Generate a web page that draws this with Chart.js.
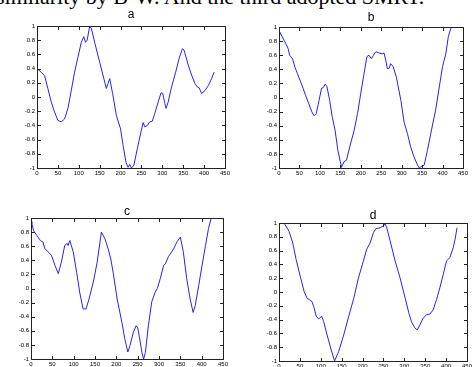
<!DOCTYPE html>
<html>
<head>
<meta charset="utf-8">
<script src="https://cdn.jsdelivr.net/npm/chart.js@4.4.1/dist/chart.umd.min.js"></script>
<style>
  html, body { margin: 0; padding: 0; background: #fff; }
  body { width: 474px; height: 367px; position: relative; overflow: hidden; }
  canvas { position: absolute; }
  .titulo { position: absolute; font: 12px/12px "Liberation Sans", Arial, sans-serif; color: #000; text-align: center; width: 20px; }
  .pie { position: absolute; left: -4px; top: -14px; font: 22px/22px "Liberation Serif", "Times New Roman", serif; color: #000; white-space: nowrap; }
</style>
</head>
<body>
<div class="pie">similarity by B-W. And the third adopted SMRT.</div>

<script>
// datos (indice de muestra -> valor normalizado)
const aX = [0,10,18,26,34,42,50,58,66,74,82,90,98,106,112,116,120,126,130,138,150,160,166,170,174,181,190,200,206,213,218,222,226,232,240,249,254,258,264,270,276,282,290,297,301,306,309,314,322,332,340,348,352,362,370,378,384,388,394,402,410,418,424];
const aY = [0.40,0.35,0.30,0.12,-0.07,-0.21,-0.33,-0.35,-0.31,-0.16,0.09,0.35,0.56,0.77,0.85,0.77,0.80,0.99,0.97,0.77,0.49,0.26,0.12,0.19,0.26,0.05,-0.26,-0.45,-0.68,-0.92,-0.99,-0.95,-1.0,-0.96,-0.73,-0.49,-0.36,-0.42,-0.40,-0.35,-0.34,-0.23,-0.07,0.06,0.05,-0.09,-0.16,-0.07,0.14,0.35,0.54,0.68,0.66,0.45,0.31,0.19,0.14,0.13,0.05,0.09,0.16,0.26,0.35];

const bX = [0,8,16,22,26,33,39,45,53,59,65,73,80,86,91,98,104,108,113,117,124,130,137,144,150,153,159,165,173,184,192,200,208,215,220,226,231,237,245,253,257,261,265,269,273,279,287,298,306,314,322,330,339,343,348,355,363,373,383,392,400,408,414,420,424];
const bY = [0.95,0.86,0.77,0.70,0.60,0.55,0.43,0.34,0.22,0.13,0.03,-0.09,-0.20,-0.26,-0.23,-0.04,0.13,0.14,0.19,0.16,-0.04,-0.27,-0.46,-0.75,-0.91,-0.99,-0.91,-0.89,-0.70,-0.46,-0.23,0.06,0.34,0.58,0.60,0.55,0.60,0.65,0.63,0.62,0.63,0.53,0.41,0.41,0.48,0.44,0.29,-0.04,-0.35,-0.51,-0.70,-0.84,-0.96,-1.0,-0.98,-0.96,-0.75,-0.46,-0.18,0.15,0.44,0.62,0.86,0.98,1.0];

const cX = [0,2,6,14,22,28,32,40,48,56,64,71,79,85,87,91,99,107,114,122,129,136,146,155,165,173,181,187,193,202,213,220,227,232,240,246,250,256,260,264,268,275,283,291,296,303,311,315,322,334,342,350,357,365,373,380,385,393,401,409,416,422,426];
const cY = [0.95,0.92,0.82,0.75,0.68,0.66,0.57,0.52,0.47,0.33,0.21,0.37,0.61,0.64,0.61,0.68,0.52,0.23,-0.05,-0.29,-0.29,-0.15,0.09,0.37,0.80,0.71,0.56,0.42,0.21,-0.15,-0.48,-0.72,-0.90,-0.81,-0.62,-0.53,-0.55,-0.76,-0.91,-1.0,-0.91,-0.53,-0.19,-0.05,0.0,0.14,0.33,0.35,0.45,0.56,0.66,0.73,0.52,0.14,-0.15,-0.34,-0.24,0.04,0.33,0.61,0.85,0.99,1.0];

const dX = [2,12,24,33,41,52,60,67,73,79,83,89,95,102,107,115,125,133,143,155,167,179,190,202,210,218,226,232,242,250,254,258,266,278,290,302,311,317,325,331,337,345,353,361,369,377,385,393,401,409,417,422,426];
const dY = [1.0,1.0,0.88,0.71,0.47,0.2,0.01,-0.09,-0.11,-0.14,-0.21,-0.35,-0.39,-0.35,-0.43,-0.62,-0.84,-1.0,-0.86,-0.62,-0.35,-0.09,0.2,0.45,0.62,0.71,0.86,0.92,0.93,0.96,0.99,0.93,0.74,0.45,0.2,-0.09,-0.31,-0.43,-0.52,-0.55,-0.48,-0.38,-0.33,-0.32,-0.26,-0.11,0.06,0.25,0.45,0.5,0.64,0.78,0.93];

// ejes al estilo MATLAB
const xTicks = [0,50,100,150,200,250,300,350,400,450];
const yTicks = [-1,-0.8,-0.6,-0.4,-0.2,0,0.2,0.4,0.6,0.8,1];

// caja y marcas hacia dentro
const marcoMatlab = {
  id: 'marcoMatlab',
  afterDraw(chart) {
    const { ctx, chartArea: ca, scales: { x, y } } = chart;
    const largo = 3;
    ctx.save();
    ctx.strokeStyle = '#222';
    ctx.lineWidth = 1;
    ctx.strokeRect(ca.left + 0.5, ca.top + 0.5, ca.right - ca.left, ca.bottom - ca.top);
    ctx.beginPath();
    xTicks.forEach(v => {
      const px = Math.round(x.getPixelForValue(v)) + 0.5;
      ctx.moveTo(px, ca.bottom); ctx.lineTo(px, ca.bottom - largo);
      ctx.moveTo(px, ca.top + 1); ctx.lineTo(px, ca.top + 1 + largo);
    });
    yTicks.forEach(v => {
      const py = Math.round(y.getPixelForValue(v)) + 0.5;
      ctx.moveTo(ca.left + 1, py); ctx.lineTo(ca.left + 1 + largo, py);
      ctx.moveTo(ca.right, py); ctx.lineTo(ca.right - largo, py);
    });
    ctx.stroke();
    ctx.restore();
  }
};

function crearSubplot(titulo, xs, ys, caja) {
  const canvas = document.createElement('canvas');
  canvas.width = caja.w + 40;
  canvas.height = caja.h + 25;
  canvas.style.left = (caja.l - 30) + 'px';
  canvas.style.top = (caja.t - 10) + 'px';
  canvas.style.width = canvas.width + 'px';
  canvas.style.height = canvas.height + 'px';
  document.body.appendChild(canvas);

  const div = document.createElement('div');
  div.className = 'titulo';
  div.textContent = titulo;
  div.style.left = (caja.l + caja.w / 2 - 10) + 'px';
  div.style.top = caja.tt + 'px';
  document.body.appendChild(div);

  const fuente = { family: '"Liberation Sans", Arial, sans-serif', size: 6 };

  new Chart(canvas, {
    type: 'line',
    data: {
      datasets: [{
        data: xs.map((x, i) => ({ x, y: ys[i] })),
        borderColor: '#2424ee',
        borderWidth: 1,
        pointRadius: 0,
        tension: 0,
        fill: false
      }]
    },
    options: {
      responsive: false,
      animation: false,
      events: [],
      layout: { autoPadding: false, padding: { left: 0, top: 10, right: 10, bottom: 0 } },
      plugins: { legend: { display: false }, tooltip: { enabled: false }, title: { display: false } },
      scales: {
        x: {
          type: 'linear', min: 0, max: 450,
          afterBuildTicks: s => { s.ticks = xTicks.map(value => ({ value })); },
          afterFit: s => { s.height = 15; },
          border: { display: false },
          grid: { display: false, drawTicks: false },
          ticks: { font: fuente, color: '#000', padding: 2, maxRotation: 0, autoSkip: false, callback: v => String(v) }
        },
        y: {
          type: 'linear', min: -1, max: 1,
          afterBuildTicks: s => { s.ticks = yTicks.map(value => ({ value })); },
          afterFit: s => { s.width = 30; },
          border: { display: false },
          grid: { display: false, drawTicks: false },
          ticks: { font: fuente, color: '#000', padding: 2, autoSkip: false, callback: v => String(+v.toFixed(1)) }
        }
      }
    },
    plugins: [marcoMatlab]
  });
}

crearSubplot('a', aX, aY, { l: 37, t: 26, w: 188, h: 142, tt: 8 });
crearSubplot('b', bX, bY, { l: 279, t: 27, w: 184, h: 141, tt: 11 });
crearSubplot('c', cX, cY, { l: 31, t: 218, w: 192, h: 141, tt: 205 });
crearSubplot('d', dX, dY, { l: 279, t: 223, w: 188, h: 138, tt: 209 });
</script>
</body>
</html>
